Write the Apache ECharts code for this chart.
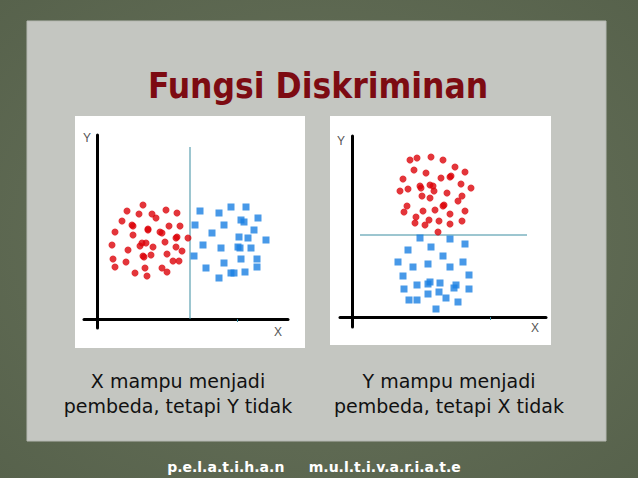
<!DOCTYPE html>
<html>
<head>
<meta charset="utf-8">
<script src="https://cdn.jsdelivr.net/npm/echarts@6/dist/echarts.min.js"></script>
<style>
html,body{margin:0;padding:0;background:#5a6550;}
#c{width:638px;height:478px;}
</style>
</head>
<body>
<div id="c"></div>
<script>
// ---- Data ----
const titleText = 'Fungsi Diskriminan';
const captionLeft = ['X mampu menjadi', 'pembeda, tetapi Y tidak'];
const captionRight = ['Y mampu menjadi', 'pembeda, tetapi X tidak'];
const footerText = 'p.e.l.a.t.i.h.a.n     m.u.l.t.i.v.a.r.i.a.t.e';
const axisNames = ['X', 'Y'];

// Left panel: X separates the groups
const leftRed = [[46,114],[30,108],[42,105],[55,105],[69,109],[80,106],[59,101],[25,98],[35,94],[36,93],
  [51,90],[72,93],[83,93],[18,87],[36,84],[63,87],[65,86],[80,82],[91,81],[51,89],[45,76],[49,76],[43,73],
  [15,74],[68,77],[56,72],[79,72],[85,68],[31,69],[46,63],[47,62],[54,64],[70,65],[16,60],[29,57],[76,58],
  [82,58],[18,52],[48,51],[65,51],[70,47],[38,46],[50,43],[79,81]];
const leftBlue = [[103,108],[122,106],[134,112],[149,112],[161,101],[144,99],[147,97],[98,94],[127,94],
  [157,89],[115,86],[142,82],[151,81],[169,79],[106,74],[124,71],[141,72],[143,71],[154,71],[97,63],[144,60],
  [160,60],[127,56],[109,51],[160,52],[134,46],[137,46],[148,47],[122,41]];
const leftBoundary = [[93,0],[93,172]];

// Right panel: Y separates the groups
const rightRed = [[58,157],[65,159],[79,160],[91,157],[103,150],[62,147],[74,144],[113,145],[89,139],[98,140],
  [99,141],[51,138],[109,133],[119,129],[56,128],[48,126],[68,131],[69,129],[78,132],[81,131],[82,126],[95,124],
  [70,121],[78,119],[110,121],[106,116],[55,111],[52,105],[92,112],[91,111],[71,106],[83,107],[98,103],[113,106],
  [64,100],[77,97],[87,96],[63,94],[73,92],[98,93],[110,96],[86,85]];
const rightBlue = [[68,79],[98,78],[113,73],[56,67],[79,70],[91,61],[46,55],[76,53],[111,55],[61,50],[98,50],
  [51,41],[117,42],[65,32],[76,33],[78,35],[88,34],[104,32],[102,29],[52,28],[87,25],[117,28],[76,23],[94,19],
  [57,17],[65,17],[106,15],[84,8]];
const rightBoundary = [[8,82],[175,82]];

// ---- Styles ----
const RED = '#dc0309', BLUE = '#1a7fe2', TEAL = '#3b8da1';
const chart = echarts.init(document.getElementById('c'), null, {renderer: 'svg'});

function axisCommon(extra) {
  return Object.assign({
    type: 'value',
    splitLine: {show: false},
    axisLabel: {show: false},
    axisTick: {show: false},
    axisLine: {show: true, onZero: true, lineStyle: {color: '#000', width: 3}}
  }, extra);
}
function nameStyle(align, vAlign, padding) {
  return {color: '#555', fontSize: 12, fontFamily: 'Liberation Sans, Arial, sans-serif',
    align: align, verticalAlign: vAlign, padding: padding};
}

const option = {
  animation: false,
  backgroundColor: {
    type: 'radial', x: 0.5, y: 0.5, r: 0.75,
    colorStops: [{offset: 0, color: '#69745c'}, {offset: 1, color: '#56614b'}]
  },
  graphic: [
    {type: 'rect', z: -10, shape: {x: 27, y: 21, width: 579, height: 420},
      style: {fill: '#c4c6c1', stroke: '#b5b8b2', lineWidth: 1}},
    {type: 'rect', z: -9, shape: {x: 75, y: 116, width: 230, height: 232}, style: {fill: '#ffffff'}},
    {type: 'rect', z: -9, shape: {x: 330, y: 116, width: 221, height: 229}, style: {fill: '#ffffff'}},
    {type: 'text', z: 10, x: 318, y: 86, style: {text: titleText, fill: '#7d0b12',
      font: 'bold 35px "DejaVu Sans Condensed", "DejaVu Sans", sans-serif', align: 'center', verticalAlign: 'middle'}},
    {type: 'text', z: 10, x: 178, y: 381, style: {text: captionLeft[0], fill: '#111',
      font: '19px "DejaVu Sans", sans-serif', align: 'center', verticalAlign: 'middle'}},
    {type: 'text', z: 10, x: 178, y: 406, style: {text: captionLeft[1], fill: '#111',
      font: '19px "DejaVu Sans", sans-serif', align: 'center', verticalAlign: 'middle'}},
    {type: 'text', z: 10, x: 449, y: 381, style: {text: captionRight[0], fill: '#111',
      font: '19px "DejaVu Sans", sans-serif', align: 'center', verticalAlign: 'middle'}},
    {type: 'text', z: 10, x: 449, y: 406, style: {text: captionRight[1], fill: '#111',
      font: '19px "DejaVu Sans", sans-serif', align: 'center', verticalAlign: 'middle'}},
    {type: 'text', z: 10, x: 314, y: 467, style: {text: footerText, fill: '#ffffff',
      font: 'bold 14px "DejaVu Sans", sans-serif', align: 'center', verticalAlign: 'middle'}}
  ],
  grid: [
    {left: 84, top: 135, width: 204, height: 193},
    {left: 340, top: 136, width: 206, height: 191}
  ],
  xAxis: [
    axisCommon({gridIndex: 0, min: -13, max: 191, name: axisNames[0], nameLocation: 'end', nameGap: -10,
      nameTextStyle: nameStyle('center', 'top', [7,0,0,0]),
      axisTick: {show: true, customValues: [140], length: 3, lineStyle: {color: TEAL, width: 1}}}),
    axisCommon({gridIndex: 1, min: -12, max: 194, name: axisNames[0], nameLocation: 'end', nameGap: -11,
      nameTextStyle: nameStyle('center', 'top', [5,0,0,0]),
      axisTick: {show: true, customValues: [138], length: 3, lineStyle: {color: TEAL, width: 1}}})
  ],
  yAxis: [
    axisCommon({gridIndex: 0, min: -9, max: 184, name: axisNames[1], nameLocation: 'end', nameGap: -3,
      nameTextStyle: nameStyle('right', 'middle', [0,6,0,0])}),
    axisCommon({gridIndex: 1, min: -10, max: 181, name: axisNames[1], nameLocation: 'end', nameGap: -5,
      nameTextStyle: nameStyle('right', 'middle', [0,7,0,0])})
  ],
  series: [
    {type: 'line', xAxisIndex: 0, yAxisIndex: 0, data: leftBoundary, symbol: 'none', z: 1,
      lineStyle: {color: TEAL, width: 1}},
    {type: 'scatter', xAxisIndex: 0, yAxisIndex: 0, data: leftRed, symbol: 'circle', symbolSize: 7,
      itemStyle: {color: RED}},
    {type: 'scatter', xAxisIndex: 0, yAxisIndex: 0, data: leftBlue, symbol: 'rect', symbolSize: 7,
      itemStyle: {color: BLUE}},
    {type: 'line', xAxisIndex: 1, yAxisIndex: 1, data: rightBoundary, symbol: 'none', z: 1,
      lineStyle: {color: TEAL, width: 1}},
    {type: 'scatter', xAxisIndex: 1, yAxisIndex: 1, data: rightRed, symbol: 'circle', symbolSize: 7,
      itemStyle: {color: RED}},
    {type: 'scatter', xAxisIndex: 1, yAxisIndex: 1, data: rightBlue, symbol: 'rect', symbolSize: 7,
      itemStyle: {color: BLUE}}
  ]
};
chart.setOption(option);
</script>
</body>
</html>
